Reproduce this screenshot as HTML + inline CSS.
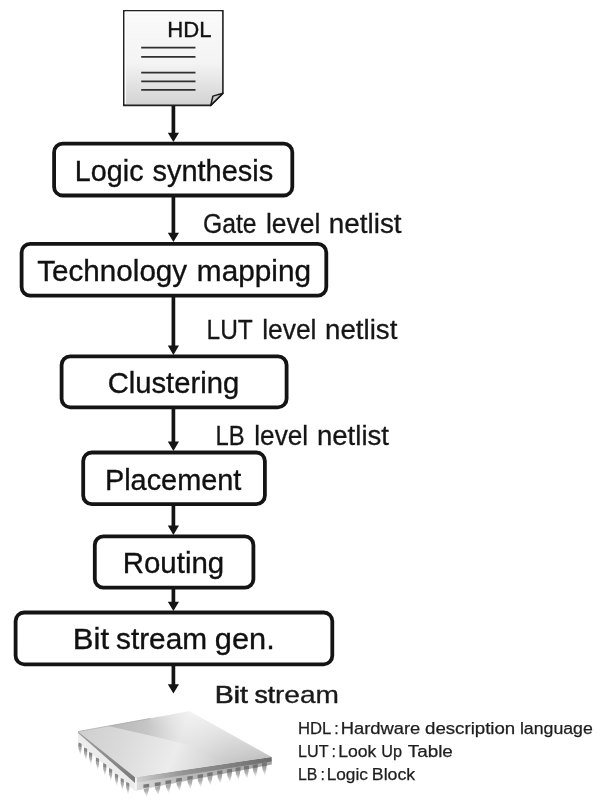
<!DOCTYPE html>
<html>
<head>
<meta charset="utf-8">
<title>FPGA design flow</title>
<style>
html,body{margin:0;padding:0;background:#fff;}
body{width:600px;height:801px;overflow:hidden;font-family:"Liberation Sans",sans-serif;}
svg{display:block;}
text{font-family:"Liberation Sans",sans-serif;}
</style>
</head>
<body>
<svg width="600" height="801" viewBox="0 0 600 801" style="will-change:transform;opacity:0.9999">
<defs>
<linearGradient id="docg" x1="0" y1="0" x2="0" y2="1">
<stop offset="0" stop-color="#fafafa"/>
<stop offset="0.55" stop-color="#f4f4f4"/>
<stop offset="1" stop-color="#d2d2d2"/>
</linearGradient>

<linearGradient id="chipTop" gradientUnits="userSpaceOnUse" x1="78" y1="715" x2="272" y2="789">
<stop offset="0" stop-color="#cdcdcd"/>
<stop offset="0.25" stop-color="#dadada"/>
<stop offset="0.50" stop-color="#ececec"/>
<stop offset="0.64" stop-color="#dadada"/>
<stop offset="0.82" stop-color="#bebebe"/>
<stop offset="0.95" stop-color="#a4a4a4"/>
</linearGradient>
<linearGradient id="chipFade" gradientUnits="userSpaceOnUse" x1="205" y1="703" x2="185" y2="742">
<stop offset="0" stop-color="#ffffff" stop-opacity="0.8"/>
<stop offset="0.45" stop-color="#ffffff" stop-opacity="0.3"/>
<stop offset="1" stop-color="#ffffff" stop-opacity="0"/>
</linearGradient>
<linearGradient id="facet" gradientUnits="userSpaceOnUse" x1="110" y1="0" x2="200" y2="0">
<stop offset="0" stop-color="#b6b6b6" stop-opacity="0.95"/>
<stop offset="0.4" stop-color="#bebebe" stop-opacity="0.8"/>
<stop offset="0.7" stop-color="#cccccc" stop-opacity="0.3"/>
<stop offset="1" stop-color="#d8d8d8" stop-opacity="0"/>
</linearGradient>
<linearGradient id="sideR" gradientUnits="userSpaceOnUse" x1="135" y1="0" x2="272" y2="0">
<stop offset="0" stop-color="#dcdcdc"/>
<stop offset="0.3" stop-color="#bcbcbc"/>
<stop offset="1" stop-color="#a4a4a4"/>
</linearGradient>
<linearGradient id="sideRd" gradientUnits="userSpaceOnUse" x1="135" y1="0" x2="272" y2="0">
<stop offset="0" stop-color="#d2d2d2"/>
<stop offset="0.12" stop-color="#bababa"/>
<stop offset="0.35" stop-color="#949494"/>
<stop offset="0.7" stop-color="#808080"/>
<stop offset="1" stop-color="#6c6c6c"/>
</linearGradient>
<linearGradient id="bevL" gradientUnits="userSpaceOnUse" x1="78" y1="0" x2="135" y2="0">
<stop offset="0" stop-color="#a0a0a0"/>
<stop offset="0.6" stop-color="#8a8a8a"/>
<stop offset="1" stop-color="#7a7a7a"/>
</linearGradient>
<linearGradient id="pinG" x1="0" y1="0" x2="0" y2="1">
<stop offset="0" stop-color="#989898"/>
<stop offset="0.45" stop-color="#b2b2b2"/>
<stop offset="1" stop-color="#d8d8d8" stop-opacity="0.55"/>
</linearGradient>
<filter id="tblur" x="-10%" y="-20%" width="120%" height="140%"><feGaussianBlur stdDeviation="0.4"/></filter>
<filter id="soft" x="-5%" y="-5%" width="110%" height="110%"><feGaussianBlur stdDeviation="0.7"/></filter>
<filter id="soft2" x="-20%" y="-20%" width="140%" height="140%"><feGaussianBlur stdDeviation="0.45"/></filter>
</defs>
<rect x="0" y="0" width="600" height="801" fill="#ffffff"/>

<!-- document icon -->
<g id="doc">
<path d="M123.8 10.7 H222.9 V93.3 L210.7 105.4 H123.8 Z" fill="url(#docg)" stroke="#202020" stroke-width="1.6" stroke-linejoin="miter"/>
<path d="M125.4 104 V12.3 H221.3" fill="none" stroke="#ffffff" stroke-width="1.4" stroke-opacity="0.9"/>
<path d="M210.7 105.4 L212.9 96.1 L222.9 93.3 Z" fill="#c9c9c9" stroke="#1c1c1c" stroke-width="1.5" stroke-linejoin="round"/>
<g stroke="#303030" stroke-width="1.7">
<line x1="141.2" y1="47.7" x2="195.5" y2="47.7"/>
<line x1="141.2" y1="56.8" x2="195.5" y2="56.8"/>
<line x1="141.2" y1="72.6" x2="195.5" y2="72.6"/>
<line x1="141.2" y1="81.3" x2="195.5" y2="81.3"/>
<line x1="141.2" y1="89.9" x2="195.5" y2="89.9"/>
</g>
</g>

<!-- arrows -->
<g id="arrows" stroke="#141414" stroke-width="3.7" fill="none">
<line x1="173.4" y1="106.0" x2="173.4" y2="134.1"/>
<line x1="173.4" y1="197.0" x2="173.4" y2="234.1"/>
<line x1="173.4" y1="297.0" x2="173.4" y2="346.9"/>
<line x1="173.4" y1="408.0" x2="173.4" y2="442.9"/>
<line x1="173.4" y1="505.0" x2="173.4" y2="526.9"/>
<line x1="173.4" y1="588.0" x2="173.4" y2="603.0"/>
<line x1="173.4" y1="665.0" x2="173.4" y2="685.6"/>
</g>
<g id="heads" fill="#141414">
<path d="M167.80 132.80 H179.00 L173.40 142.10 Z"/>
<path d="M167.80 232.80 H179.00 L173.40 242.10 Z"/>
<path d="M167.80 345.60 H179.00 L173.40 354.90 Z"/>
<path d="M167.80 441.60 H179.00 L173.40 450.90 Z"/>
<path d="M167.80 525.60 H179.00 L173.40 534.90 Z"/>
<path d="M167.80 601.70 H179.00 L173.40 611.00 Z"/>
<path d="M167.80 684.30 H179.00 L173.40 693.60 Z"/>
</g>

<!-- boxes -->
<g id="boxes" fill="#ffffff" stroke="#141414" stroke-width="3.8">
<rect x="54.10" y="143.60" width="238.20" height="51.90" rx="8.6" ry="8.6"/>
<rect x="21.60" y="243.80" width="304.70" height="51.80" rx="8.6" ry="8.6"/>
<rect x="61.60" y="356.40" width="225.00" height="50.90" rx="8.6" ry="8.6"/>
<rect x="83.20" y="452.50" width="181.70" height="51.60" rx="8.6" ry="8.6"/>
<rect x="94.80" y="536.40" width="158.60" height="51.30" rx="8.6" ry="8.6"/>
<rect x="15.60" y="612.50" width="316.70" height="51.80" rx="8.6" ry="8.6"/>
</g>

<!-- text -->
<g id="g_hdl" font-size="22" fill="#111" stroke="#111" stroke-width="0.35">
<text id="w_hdl" x="167.31" y="37.0" textLength="44.32" lengthAdjust="spacingAndGlyphs">HDL</text>
</g>
<g id="g_box" font-size="29.4" fill="#111" stroke="#111" stroke-width="0.35">
<text id="w_logic" x="74.86" y="181.2" textLength="68.64" lengthAdjust="spacingAndGlyphs">Logic</text>
<text id="w_synth" x="152.52" y="181.2" textLength="120.59" lengthAdjust="spacingAndGlyphs">synthesis</text>
<text id="w_tech" x="37.28" y="281.2" textLength="149.89" lengthAdjust="spacingAndGlyphs">Technology</text>
<text id="w_map" x="196.89" y="281.2" textLength="114.14" lengthAdjust="spacingAndGlyphs">mapping</text>
<text id="w_clus" x="107.64" y="393.0" textLength="131.52" lengthAdjust="spacingAndGlyphs">Clustering</text>
<text id="w_plac" x="104.90" y="489.5" textLength="136.48" lengthAdjust="spacingAndGlyphs">Placement</text>
<text id="w_rout" x="122.77" y="573.0" textLength="101.39" lengthAdjust="spacingAndGlyphs">Routing</text>
<text id="w_bit" x="72.84" y="649.3" textLength="36.30" lengthAdjust="spacingAndGlyphs">Bit</text>
<text id="w_stream" x="115.99" y="649.3" textLength="91.13" lengthAdjust="spacingAndGlyphs">stream</text>
<text id="w_gen" x="214.86" y="649.3" textLength="59.85" lengthAdjust="spacingAndGlyphs">gen.</text>
</g>
<g id="g_side" font-size="26.8" fill="#161616" stroke="#161616" stroke-width="0.3">
<text id="w_gate" x="203.06" y="233.3" textLength="53.57" lengthAdjust="spacingAndGlyphs">Gate</text>
<text id="w_lev1" x="265.96" y="233.3" textLength="54.41" lengthAdjust="spacingAndGlyphs">level</text>
<text id="w_net1" x="328.82" y="233.3" textLength="72.76" lengthAdjust="spacingAndGlyphs">netlist</text>
<text id="w_lut" x="206.54" y="339.2" textLength="46.29" lengthAdjust="spacingAndGlyphs">LUT</text>
<text id="w_lev2" x="262.13" y="339.2" textLength="54.37" lengthAdjust="spacingAndGlyphs">level</text>
<text id="w_net2" x="325.00" y="339.2" textLength="72.36" lengthAdjust="spacingAndGlyphs">netlist</text>
<text id="w_lb" x="215.51" y="445.0" textLength="29.11" lengthAdjust="spacingAndGlyphs">LB</text>
<text id="w_lev3" x="254.27" y="445.0" textLength="53.92" lengthAdjust="spacingAndGlyphs">level</text>
<text id="w_net3" x="316.94" y="445.0" textLength="72.05" lengthAdjust="spacingAndGlyphs">netlist</text>
</g>
<g id="g_bs1" font-size="24" fill="#1a1a1a" stroke="#1a1a1a" stroke-width="0.6" filter="url(#tblur)">
<text id="w_bs1" x="214.72" y="702.6" textLength="33.21" lengthAdjust="spacingAndGlyphs">Bit</text>
<text id="w_bs2" x="254.57" y="702.6" textLength="20.61" lengthAdjust="spacingAndGlyphs">st</text>
</g>
<g id="g_bs2" font-size="24" fill="#1a1a1a" stroke="#1a1a1a" stroke-width="0.3">
<text id="w_bs3" x="274.98" y="702.6" textLength="64.02" lengthAdjust="spacingAndGlyphs">ream</text>
</g>
<g id="g_leg" font-size="16" fill="#1e1e1e" stroke="#1e1e1e" stroke-width="0.25">
<text id="l1a" x="297.91" y="734.2" textLength="33.38" lengthAdjust="spacingAndGlyphs">HDL</text>
<text id="l1c" x="340.69" y="734.2" textLength="79.50" lengthAdjust="spacingAndGlyphs">Hardware</text>
<text id="l1d" x="425.01" y="734.2" textLength="90.24" lengthAdjust="spacingAndGlyphs">description</text>
<text id="l1e" x="519.93" y="734.2" textLength="72.83" lengthAdjust="spacingAndGlyphs">language</text>
<text id="l2a" x="298.01" y="757.2" textLength="30.51" lengthAdjust="spacingAndGlyphs">LUT</text>
<text id="l2c" x="338.22" y="757.2" textLength="38.17" lengthAdjust="spacingAndGlyphs">Look</text>
<text id="l2d" x="381.19" y="757.2" textLength="20.74" lengthAdjust="spacingAndGlyphs">Up</text>
<text id="l2e" x="407.74" y="757.2" textLength="45.13" lengthAdjust="spacingAndGlyphs">Table</text>
<text id="l3a" x="298.00" y="779.7" textLength="19.34" lengthAdjust="spacingAndGlyphs">LB</text>
<text id="l3c" x="326.70" y="779.7" textLength="41.17" lengthAdjust="spacingAndGlyphs">Logic</text>
<text id="l3d" x="371.89" y="779.7" textLength="43.29" lengthAdjust="spacingAndGlyphs">Block</text>
<text id="l1b" x="334.32" y="734.2">:</text>
<text id="l2b" x="331.41" y="757.2">:</text>
<text id="l3b" x="320.42" y="779.7">:</text>
</g>

<!-- chip -->
<g id="chip" filter="url(#soft)">
<g id="pins" filter="url(#soft2)">
<path d="M143.4 787.5 L149.2 786.7 L148.6 790.4 L146.8 796.9 L144.0 791.1 Z" fill="url(#pinG)"/>
<path d="M154.8 785.6 L160.6 784.8 L160.0 788.5 L158.2 795.0 L155.4 789.2 Z" fill="url(#pinG)"/>
<path d="M165.5 783.6 L171.1 782.8 L170.6 786.5 L168.8 793.0 L166.0 787.2 Z" fill="url(#pinG)"/>
<path d="M176.2 781.5 L181.8 780.7 L181.2 784.4 L179.5 790.9 L176.8 785.1 Z" fill="url(#pinG)"/>
<path d="M187.3 779.5 L192.7 778.7 L192.2 782.4 L190.5 788.9 L187.8 783.1 Z" fill="url(#pinG)"/>
<path d="M197.6 777.6 L203.0 776.8 L202.5 780.5 L200.8 787.0 L198.1 781.2 Z" fill="url(#pinG)"/>
<path d="M207.3 775.8 L212.7 775.0 L212.1 778.7 L210.5 785.2 L207.9 779.4 Z" fill="url(#pinG)"/>
<path d="M217.2 774.0 L222.4 773.2 L221.9 776.9 L220.3 783.4 L217.7 777.6 Z" fill="url(#pinG)"/>
<path d="M226.9 772.3 L232.1 771.5 L231.6 775.2 L230.0 781.7 L227.4 775.9 Z" fill="url(#pinG)"/>
<path d="M235.5 770.7 L240.5 769.9 L240.0 773.6 L238.5 780.1 L236.0 774.3 Z" fill="url(#pinG)"/>
<path d="M244.0 769.2 L249.0 768.4 L248.5 772.1 L247.0 778.6 L244.5 772.8 Z" fill="url(#pinG)"/>
<path d="M252.7 767.6 L257.7 766.8 L257.2 770.5 L255.7 777.0 L253.2 771.2 Z" fill="url(#pinG)"/>
<path d="M262.0 766.0 L266.8 765.2 L266.3 768.9 L264.9 775.4 L262.5 769.6 Z" fill="url(#pinG)"/>
<path d="M78.4 745.1 L81.6 746.4 L81.6 749.1 L80.3 755.1 L78.4 748.1 Z" fill="url(#pinG)"/>
<path d="M84.0 750.1 L87.2 751.4 L87.2 754.1 L85.9 760.1 L84.0 753.1 Z" fill="url(#pinG)"/>
<path d="M89.0 754.5 L92.2 755.8 L92.2 758.5 L90.9 764.5 L89.0 757.5 Z" fill="url(#pinG)"/>
<path d="M95.9 760.1 L99.1 761.4 L99.1 764.1 L97.8 770.1 L95.9 763.1 Z" fill="url(#pinG)"/>
<path d="M103.2 765.8 L106.3 767.0 L106.3 769.8 L105.0 775.8 L103.2 768.8 Z" fill="url(#pinG)"/>
<path d="M109.0 770.8 L112.2 772.0 L112.2 774.8 L110.9 780.8 L109.0 773.8 Z" fill="url(#pinG)"/>
<path d="M114.9 776.0 L118.1 777.3 L118.1 780.0 L116.8 786.0 L114.9 779.0 Z" fill="url(#pinG)"/>
<path d="M120.7 780.5 L123.8 781.8 L123.8 784.5 L122.5 790.5 L120.7 783.5 Z" fill="url(#pinG)"/>
<path d="M126.2 784.5 L129.3 785.8 L129.3 788.5 L128.1 794.5 L126.2 787.5 Z" fill="url(#pinG)"/>
</g>
<path d="M78.1 731.5 L135.0 777.2 L135.0 790.7 L78.1 742.5 Z" fill="#ececec"/>
<path d="M135.0 777.2 L271.5 757.0 L271.9 764.5 L135.0 790.7 Z" fill="url(#sideR)"/>
<path d="M135.0 777.2 L271.5 757.0 L271.7 761.6 L135.0 782.7 Z" fill="url(#sideRd)"/>
<g filter="url(#soft2)">
<path d="M143.4 784.6 L149.2 783.8 L149.2 787.3 L143.4 788.1 Z" fill="#707070" fill-opacity="0.9"/>
<path d="M154.8 782.7 L160.6 781.9 L160.6 785.4 L154.8 786.2 Z" fill="#707070" fill-opacity="0.9"/>
<path d="M165.5 780.7 L171.1 779.9 L171.1 783.4 L165.5 784.2 Z" fill="#707070" fill-opacity="0.9"/>
<path d="M176.2 778.6 L181.8 777.8 L181.8 781.3 L176.2 782.1 Z" fill="#707070" fill-opacity="0.9"/>
<path d="M187.3 776.6 L192.7 775.8 L192.7 779.3 L187.3 780.1 Z" fill="#707070" fill-opacity="0.9"/>
<path d="M197.6 774.7 L203.0 773.9 L203.0 777.4 L197.6 778.2 Z" fill="#707070" fill-opacity="0.9"/>
<path d="M207.3 772.9 L212.7 772.1 L212.7 775.6 L207.3 776.4 Z" fill="#707070" fill-opacity="0.9"/>
<path d="M217.2 771.1 L222.4 770.3 L222.4 773.8 L217.2 774.6 Z" fill="#707070" fill-opacity="0.9"/>
<path d="M226.9 769.4 L232.1 768.6 L232.1 772.1 L226.9 772.9 Z" fill="#707070" fill-opacity="0.9"/>
<path d="M235.5 767.8 L240.5 767.0 L240.5 770.5 L235.5 771.3 Z" fill="#707070" fill-opacity="0.9"/>
<path d="M244.0 766.3 L249.0 765.5 L249.0 769.0 L244.0 769.8 Z" fill="#707070" fill-opacity="0.9"/>
<path d="M252.7 764.7 L257.7 763.9 L257.7 767.4 L252.7 768.2 Z" fill="#707070" fill-opacity="0.9"/>
<path d="M262.0 763.1 L266.8 762.3 L266.8 765.8 L262.0 766.6 Z" fill="#707070" fill-opacity="0.9"/>
<path d="M78.4 742.5 L81.6 743.8 L81.6 747.0 L78.4 745.7 Z" fill="#7c7c7c" fill-opacity="0.9"/>
<path d="M84.0 747.5 L87.2 748.8 L87.2 752.0 L84.0 750.7 Z" fill="#7c7c7c" fill-opacity="0.9"/>
<path d="M89.0 751.9 L92.2 753.2 L92.2 756.4 L89.0 755.1 Z" fill="#7c7c7c" fill-opacity="0.9"/>
<path d="M95.9 757.5 L99.1 758.8 L99.1 762.0 L95.9 760.7 Z" fill="#7c7c7c" fill-opacity="0.9"/>
<path d="M103.2 763.1 L106.3 764.5 L106.3 767.6 L103.2 766.4 Z" fill="#7c7c7c" fill-opacity="0.9"/>
<path d="M109.0 768.1 L112.2 769.5 L112.2 772.6 L109.0 771.4 Z" fill="#7c7c7c" fill-opacity="0.9"/>
<path d="M114.9 773.4 L118.1 774.7 L118.1 777.9 L114.9 776.6 Z" fill="#7c7c7c" fill-opacity="0.9"/>
<path d="M120.7 777.9 L123.8 779.2 L123.8 782.4 L120.7 781.1 Z" fill="#7c7c7c" fill-opacity="0.9"/>
<path d="M126.2 781.9 L129.3 783.2 L129.3 786.4 L126.2 785.1 Z" fill="#7c7c7c" fill-opacity="0.9"/>
</g>
<path d="M135.7 777.5 V790.4" stroke="#f4f4f4" stroke-width="2.4"/>
<path d="M78.1 731.5 L189.5 711.3 L271.5 757.0 L135.0 777.2 Z" fill="url(#chipTop)"/>
<path d="M108 726.1 L189.5 711.3 L215 725.5 L205 749 L150 735.5 Z" fill="url(#facet)"/>
<path d="M78.1 731.5 L189.5 711.3 L271.5 757.0 L135.0 777.2 Z" fill="url(#chipFade)"/>
<path d="M78.1 731.5 L150 718.5" stroke="#a8a8a8" stroke-width="1" stroke-opacity="0.7"/>
<path d="M78.1 731.5 L135.0 777.2 L135.0 783.0 L78.1 733.0 Z" fill="url(#bevL)"/>
</g>
</svg>
</body>
</html>
